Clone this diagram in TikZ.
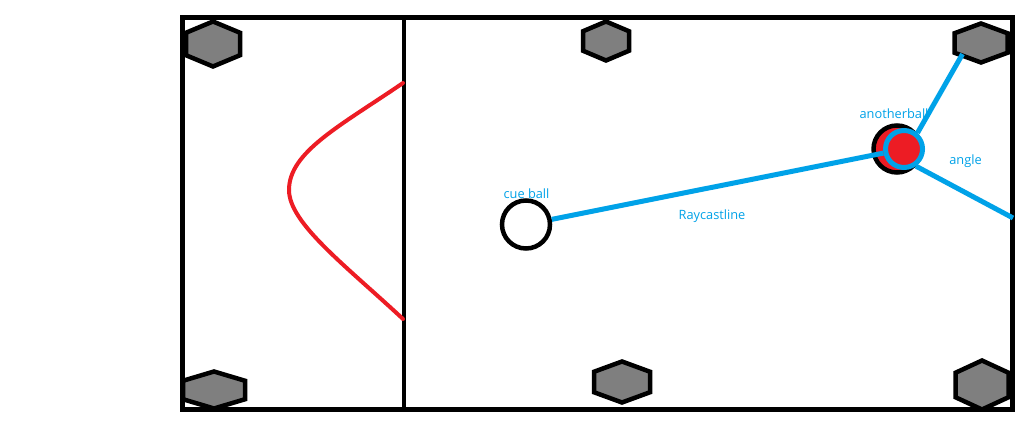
\documentclass[tikz,border=0pt]{standalone}
\usepackage{fontspec}
\setmainfont{Open Sans}
\usetikzlibrary{shapes.geometric}
\definecolor{PaintBlau}{RGB}{0,162,232}
\definecolor{PaintRot}{RGB}{237,28,36}
\definecolor{PaintGrau}{RGB}{127,127,127}
\tikzset{
    pocket/.style 2 args={shape=regular polygon, regular polygon sides=6, shape border rotate=30, minimum size=40pt, inner sep=0pt, draw=black, line width=4.5pt, fill=PaintGrau, xscale=#1/17.32, yscale=#2/20, transform shape},
    ball/.style={shape=circle, inner sep=0pt, draw=black, line width=4.5pt, minimum size=#1},
    ray/.style={PaintBlau, line width=5pt},
    label/.style={PaintBlau, font=\fontsize{12.8}{14}\selectfont, inner sep=0pt},
}

\begin{document}
\begin{tikzpicture}[x=1pt, y=-1pt]
    \useasboundingbox[fill=white] (0,0) rectangle (1024,446);

    \node[pocket={27}{22.5}] (TL) at (213,44)  {};
    \node[pocket={23}{19.5}] (TM) at (606,41)  {};
    \node[pocket={26.5}{19.5}] (TR) at (981,43)  {};
    \node[pocket={31}{18.5}] (BL) at (214,390) {};
    \node[pocket={28}{20.5}] (BM) at (622,382) {};
    \node[pocket={26.5}{24.5}] (BR) at (982,385) {};

    \draw[line width=5pt] (182.5,17.5) rectangle (1012,409.5);
    \draw[line width=4.5pt] (404,17.5) -- (404,409.5);
    \draw[PaintRot, line width=4pt, line cap=round] (403,83) .. controls (340,126) and (289,152) .. (289,190) .. controls (289,223) and (345,265) .. (403,319);

    \node[ball=48pt] (cue) at (526,224.5) {};
    \node[ball=47pt, fill=PaintRot] (another) at (897,149) {};
    \node[ball=37pt, fill=PaintRot, draw=PaintBlau, line width=5pt] (hit) at (904,149) {};
    \coordinate (rayEnd) at (1013,218);

    \draw[ray] (cue) -- (hit);
    \draw[ray, shorten >=-4pt] (hit.50) -- (TR.228);
    \draw[ray] (hit.-55) -- (rayEnd);

    \node[label] (cueLabel)     at (526.5,194) {cue ball};
    \node[label] (anotherLabel) at (894,114)   {anotherball};
    \node[label] (rayLabel)     at (712,216)   {Raycastline};
    \node[label] (angleLabel)   at (965.5,161) {angle};
\end{tikzpicture}
\end{document}
